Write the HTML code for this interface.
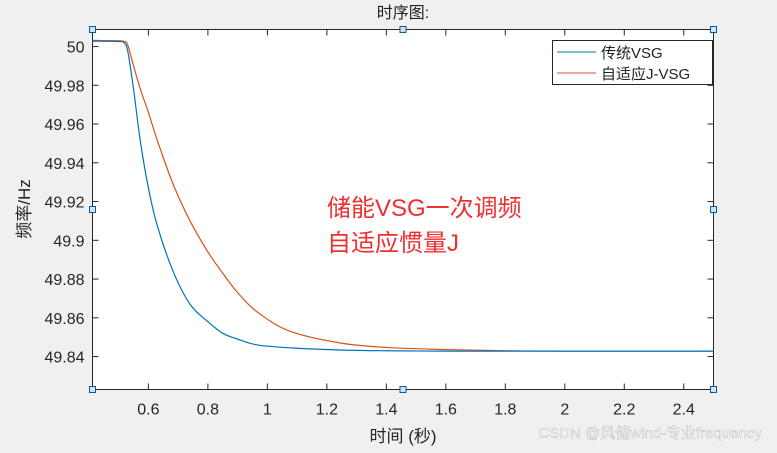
<!DOCTYPE html>
<html><head><meta charset="utf-8"><style>
body{margin:0;background:#f0f0f0;}
svg{display:block;font-family:"Liberation Sans","Noto Sans CJK SC",sans-serif;}
</style></head><body>
<svg id="chart" width="777" height="453" xmlns="http://www.w3.org/2000/svg">
<rect width="777" height="453" fill="#f0f0f0"/>
<rect x="92.5" y="29.5" width="621" height="360" fill="#fff" stroke="#262626"/>
<g id="ticks"></g>
<g id="lines"></g>
<text x="403" y="18" text-anchor="middle" font-size="16" fill="#222">时序图:</text>
<text x="403" y="442" text-anchor="middle" font-size="17" fill="#262626">时间 (秒)</text>
<text transform="translate(30,209) rotate(-90)" text-anchor="middle" font-size="17" fill="#262626">频率/Hz</text>
<g>
<rect x="552.5" y="40.5" width="160" height="44" fill="#fff" stroke="#262626"/>
<line x1="557" y1="52" x2="596" y2="52" stroke="#0072bd"/>
<text x="601" y="58" font-size="15" fill="#222">传统VSG</text>
<line x1="557" y1="73" x2="596" y2="73" stroke="#d95319"/>
<text x="601" y="79" font-size="15" fill="#222">自适应J-VSG</text>
</g>
<text x="327" y="216" font-size="24" fill="#ee3030">储能VSG一次调频</text>
<text x="327" y="251" font-size="24" fill="#ee3030">自适应惯量J</text>
<text x="762" y="438" text-anchor="end" font-size="15" fill="#fff" stroke="#999" stroke-width="0.3">CSDN @风储wind-专业frequency</text>
<g id="handles"></g>
</svg>
<script>
const xTicks=[0.6,0.8,1,1.2,1.4,1.6,1.8,2,2.2,2.4];
const xTickLabels=["0.6","0.8","1","1.2","1.4","1.6","1.8","2","2.2","2.4"];
const yTicks=[49.84,49.86,49.88,49.9,49.92,49.94,49.96,49.98,50];
const yTickLabels=["49.84","49.86","49.88","49.9","49.92","49.94","49.96","49.98","50"];
const tVals=[0.412,0.5,0.516,0.53,0.55,0.573,0.6,0.629,0.683,0.74,0.8,0.85,0.9,0.966,1.077,1.245,1.4,1.6,1.8,2.0,2.5];
const vsgVals=[50.0028,50.0026,50.0022,49.998,49.978,49.951,49.927,49.908,49.884,49.867,49.858,49.852,49.849,49.846,49.8445,49.8434,49.843,49.8428,49.8428,49.8428,49.8428];
const adaptVals=[50.0032,50.003,50.0027,50.001,49.99,49.978,49.966,49.952,49.929,49.91,49.894,49.883,49.873,49.863,49.853,49.847,49.8447,49.8436,49.843,49.8428,49.8428];
const X0=92.5,X1=713.5,Y0=29.5,Y1=389.5,xmin=0.412,xmax=2.5,ymin=49.823,ymax=50.0088;
const sx=v=>X0+(v-xmin)/(xmax-xmin)*(X1-X0);
const sy=v=>Y1-(v-ymin)/(ymax-ymin)*(Y1-Y0);
const NS="http://www.w3.org/2000/svg";
const tg=document.getElementById('ticks');
function mk(tag,at,parent){const e=document.createElementNS(NS,tag);for(const k in at)e.setAttribute(k,at[k]);parent.appendChild(e);return e;}
xTicks.forEach((v,i)=>{const x=sx(v);
 const a=mk('line',{x1:x,y1:Y1,x2:x,y2:Y1-6,stroke:'#262626'},tg);
 
 
 mk('line',{x1:x,y1:Y0,x2:x,y2:Y0+6,stroke:'#262626'},tg);
 const t=mk('text',{x:x,y:Y1+25,'text-anchor':'middle','font-size':16,fill:'#262626'},tg);t.textContent=xTickLabels[i];
 
 });
yTicks.forEach((v,i)=>{const y=sy(v);
 const a=mk('line',{x1:X0,y1:y,x2:X0+6,y2:y,stroke:'#262626'},tg);
 
 
 mk('line',{x1:X1,y1:y,x2:X1-6,y2:y,stroke:'#262626'},tg);
 const t=mk('text',{x:X0-8,y:y+6,'text-anchor':'end','font-size':16,fill:'#262626'},tg);t.textContent=yTickLabels[i];
 
 });
const lg=document.getElementById('lines');
function path(vals){const n=tVals.length;
 const P=tVals.map((t,i)=>[sx(t),sy(vals[i])]);
 let d='M'+P[0][0]+','+P[0][1];
 for(let i=0;i<n-1;i++){const p0=P[Math.max(0,i-1)],p1=P[i],p2=P[i+1],p3=P[Math.min(n-1,i+2)];
  const c1=[p1[0]+(p2[0]-p0[0])/6,p1[1]+(p2[1]-p0[1])/6],c2=[p2[0]-(p3[0]-p1[0])/6,p2[1]-(p3[1]-p1[1])/6];
  d+=' C'+c1+' '+c2+' '+p2;}
 return d;}
const l1=mk('path',{d:path(adaptVals),fill:'none',stroke:'#d95319','stroke-width':1.2},lg);


const l2=mk('path',{d:path(vsgVals),fill:'none',stroke:'#0072bd','stroke-width':1.2},lg);


const hg=document.getElementById('handles');
[[X0,Y0],[403,Y0],[X1,Y0],[X0,209.5],[X1,209.5],[X0,Y1],[403,Y1],[X1,Y1]].forEach(p=>{
 const r=mk('rect',{x:p[0]-3,y:p[1]-3,width:6,height:6,fill:'#cfe3f5',stroke:'#0a5aa0'},hg);
 
 });
</script>
</body></html>
